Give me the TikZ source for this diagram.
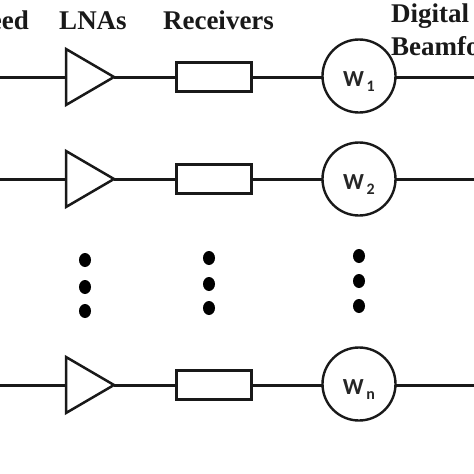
\documentclass[tikz,border=0pt]{standalone}
\usepackage{fontspec}
\setmainfont{Liberation Serif}
\newfontfamily\wfont{Carlito}
\usetikzlibrary{shapes.geometric}
\newcommand{\wsub}[1]{\raisebox{-10pt}[0pt][0pt]{W\raisebox{-5pt}{\fontsize{16}{17}\selectfont\,#1}}}
\tikzset{
  wire/.style={line width=3pt,black!90},
  lna/.style={draw=black!90,line width=2.5pt,line join=miter,isosceles triangle,isosceles triangle apex angle=60,isosceles triangle stretches,minimum width=56pt,minimum height=48pt,inner sep=0pt,outer sep=0pt},
  rx/.style={draw=black!90,line width=2.4pt,minimum width=75pt,minimum height=29pt,inner sep=0pt,outer sep=0pt},
  weight/.style={draw=black!90,line width=2.4pt,circle,minimum size=73pt,inner sep=0pt,outer sep=0pt,font=\wfont\bfseries\fontsize{23}{25}\selectfont,text=black!85},
  head/.style={inner sep=0pt,font=\bfseries\fontsize{27}{29}\selectfont,text=black!90},
  blob/.style={ellipse,fill=black,minimum width=12pt,minimum height=14pt,inner sep=0pt}
}
\begin{document}
\begin{tikzpicture}[x=1pt,y=-1pt]
\useasboundingbox (0,0) rectangle (474,474);
\clip (0,0) rectangle (474,474);
\node[head,anchor=base east] (hf) at (29,29) {Feed};
\node[head,anchor=base] (hl) at (93,29) {LNAs};
\node[head,anchor=base] (hr) at (218.5,29) {Receivers};
\node[head,anchor=base west] (hd) at (391,22) {Digital};
\node[head,anchor=base west] (hb) at (391,55) {Beamforming};
\foreach \n/\y/\c/\lab in {a/77/76/{\wsub{1}},b/179/179/{\wsub{2}},c/385/384/{\wsub{n}}}{
  \coordinate (in\n) at (0,\y);
  \coordinate (out\n) at (474,\y);
  \node[lna,anchor=apex] (t\n) at (114,\y) {};
  \node[rx] (r\n) at (214,\y) {};
  \node[weight] (w\n) at (359,\c) {\lab};
  \draw[wire] (in\n) -- (t\n.west |- in\n);
  \draw[wire] (t\n.apex) -- (r\n.west);
  \draw[wire] (r\n.east) -- (w\n.west |- r\n.east);
  \draw[wire] (w\n.east |- out\n) -- (out\n);
}
\foreach \i/\x/\y in {1/85/260,2/85/287,3/85/311,4/209/258,5/209/284,6/209/308,7/359/256,8/359/281,9/359/306}{
  \node[blob] (d\i) at (\x,\y) {};
}
\end{tikzpicture}
\end{document}
